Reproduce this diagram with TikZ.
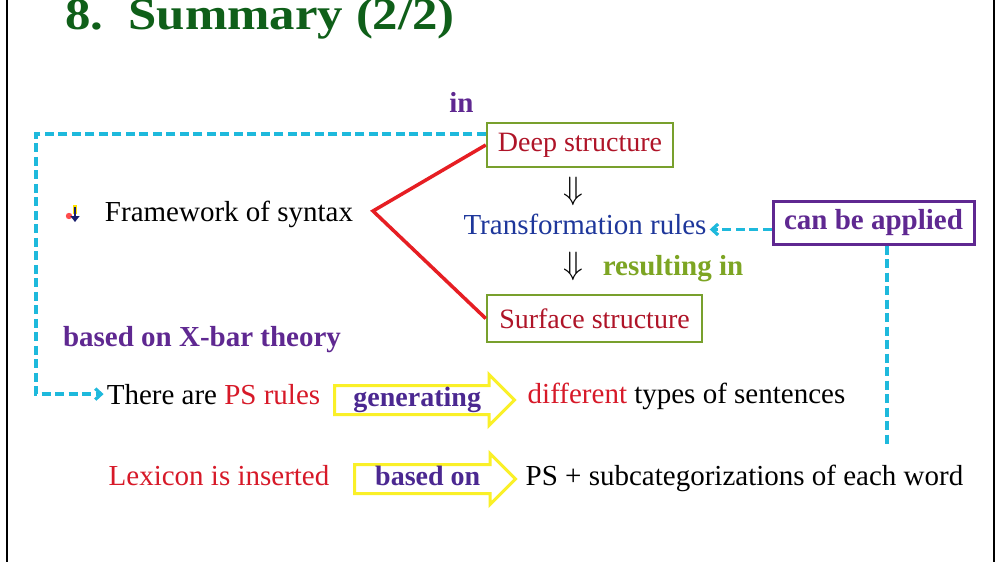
\documentclass[tikz,border=0pt]{standalone}
\usepackage{fontspec}
\setmainfont{Liberation Serif}
\usepackage{tikz}
\usetikzlibrary{positioning}
\usetikzlibrary{shapes.arrows}
\usetikzlibrary{arrows.meta}
\definecolor{titlecol}{RGB}{15,95,25}
\definecolor{deepred}{RGB}{175,20,40}
\definecolor{boxgreen}{RGB}{120,160,45}
\definecolor{transblue}{RGB}{30,55,155}
\definecolor{purp}{RGB}{95,40,145}
\definecolor{resgreen}{RGB}{125,165,35}
\definecolor{dashcyan}{RGB}{30,185,220}
\definecolor{linered}{RGB}{230,30,35}
\definecolor{txtred}{RGB}{215,25,40}
\definecolor{arrowyellow}{RGB}{250,240,40}
\definecolor{indigo}{RGB}{75,40,145}
\definecolor{bulletnavy}{RGB}{25,30,110}
\newcommand{\bodysize}{\fontsize{29}{34}\selectfont}
\tikzstyle{txt}=[font=\bodysize, inner sep=3pt]
\tikzstyle{boldtxt}=[txt, font=\bodysize\bfseries]
\tikzstyle{structbox}=[draw=boxgreen, line width=2.5, text=deepred, font=\fontsize{28}{32}\selectfont, inner sep=0pt]
\tikzstyle{blockarrow}=[single arrow, draw=arrowyellow, line width=3, fill=white, single arrow head extend=11pt, text=indigo, font=\fontsize{28}{30}\selectfont\bfseries, text height=17pt, text depth=5pt, inner ysep=2pt, inner xsep=0pt]
\tikzstyle{cyanline}=[draw=dashcyan, line width=3.2, dash pattern=on 9pt off 4.5pt]
\tikzstyle{redline}=[draw=linered, line width=3.5]
\tikzset{>={Straight Barb[length=6pt,width=11pt]}}

\begin{document}
\begin{tikzpicture}[x=1pt,y=-1pt]

    % slide area and its side edges
    \useasboundingbox (0,0) rectangle (1000,562);
    \clip (0,0) rectangle (1000,562);
    \fill[white] (0,0) rectangle (1000,562);
    \draw[line width=1.5] (7,0) -- (7,562) (994,0) -- (994,562);

    % title, cut at the top edge
    \node[anchor=base, text=titlecol, font=\fontsize{45}{50}\selectfont\bfseries] (title) at (260,29) {\scalebox{1.13}[1]{8.\ \ Summary (2/2)}};

    % bullet
    \fill[yellow!85!orange] (72.5,205) rectangle (76.5,214);
    \fill[red!60!pink] (69,216) circle (3.2);
    \draw[bulletnavy, line width=2, -{Triangle[length=6pt,width=9pt]}] (75,207) -- (75,222);
    \node[txt, anchor=base] (frame) at (229,221) {Framework of syntax};

    % deep -> transformation -> surface
    \node[structbox, minimum width=186pt, minimum height=44pt] (deep) at (580,145) {Deep structure};
    \node[txt, text=transblue, anchor=base] (trans) at (585,234) {Transformation rules};
    \node[structbox, minimum width=215pt, minimum height=47pt] (surf) at (594.5,318.5) {Surface structure};
    \node[font=\bodysize] (down1) at (573,191) {\scalebox{1.3}{$\Downarrow$}};
    \node[font=\bodysize] (down2) at (573,266) {\scalebox{1.3}{$\Downarrow$}};
    \node[boldtxt, text=purp, anchor=base] (in) at (461.5,112) {in};
    \node[boldtxt, text=resgreen, anchor=base] (res) at (673,275) {resulting in};
    \node[boldtxt, text=purp, draw=purp, line width=3, minimum width=201pt, minimum height=43pt] (apply) at (873.5,222.5) {can be applied};

    % red fork from the framework
    \coordinate (fork) at (373,211);
    \draw[redline] (deep.west) -- (fork) -- (surf.west);

    \node[boldtxt, text=purp, anchor=base] (xbar) at (202,346) {based on X-bar theory};

    % the two sentence rows with block arrows
    \node[txt, anchor=base] (there) at (213.5,404) {There are \textcolor{txtred}{PS rules}};
    \node[blockarrow, anchor=tail, minimum height=180pt] (gen) at (333,400) {generating};
    \node[txt, anchor=base] (types) at (686.5,403) {\textcolor{txtred}{different} types of sentences};
    \node[txt, text=txtred, anchor=base] (lex) at (219,485) {Lexicon is inserted};
    \node[blockarrow, anchor=tail, minimum height=161pt] (basedon) at (353,479) {based on};
    \node[txt, anchor=base] (ps) at (744.5,485) {PS + subcategorizations of each word};

    % dashed connectors
    \coordinate (leftrail) at (36,0);
    \draw[cyanline,->] ([yshift=11pt]deep.west) -| (leftrail |- there.west) -- (there.west);
    \draw[cyanline,->] ([yshift=-7pt]apply.west) -- ([yshift=-7pt]apply.west -| trans.east);
    \coordinate (applyend) at (887,447);
    \draw[cyanline] (apply.south -| applyend) -- (applyend);

\end{tikzpicture}
\end{document}
